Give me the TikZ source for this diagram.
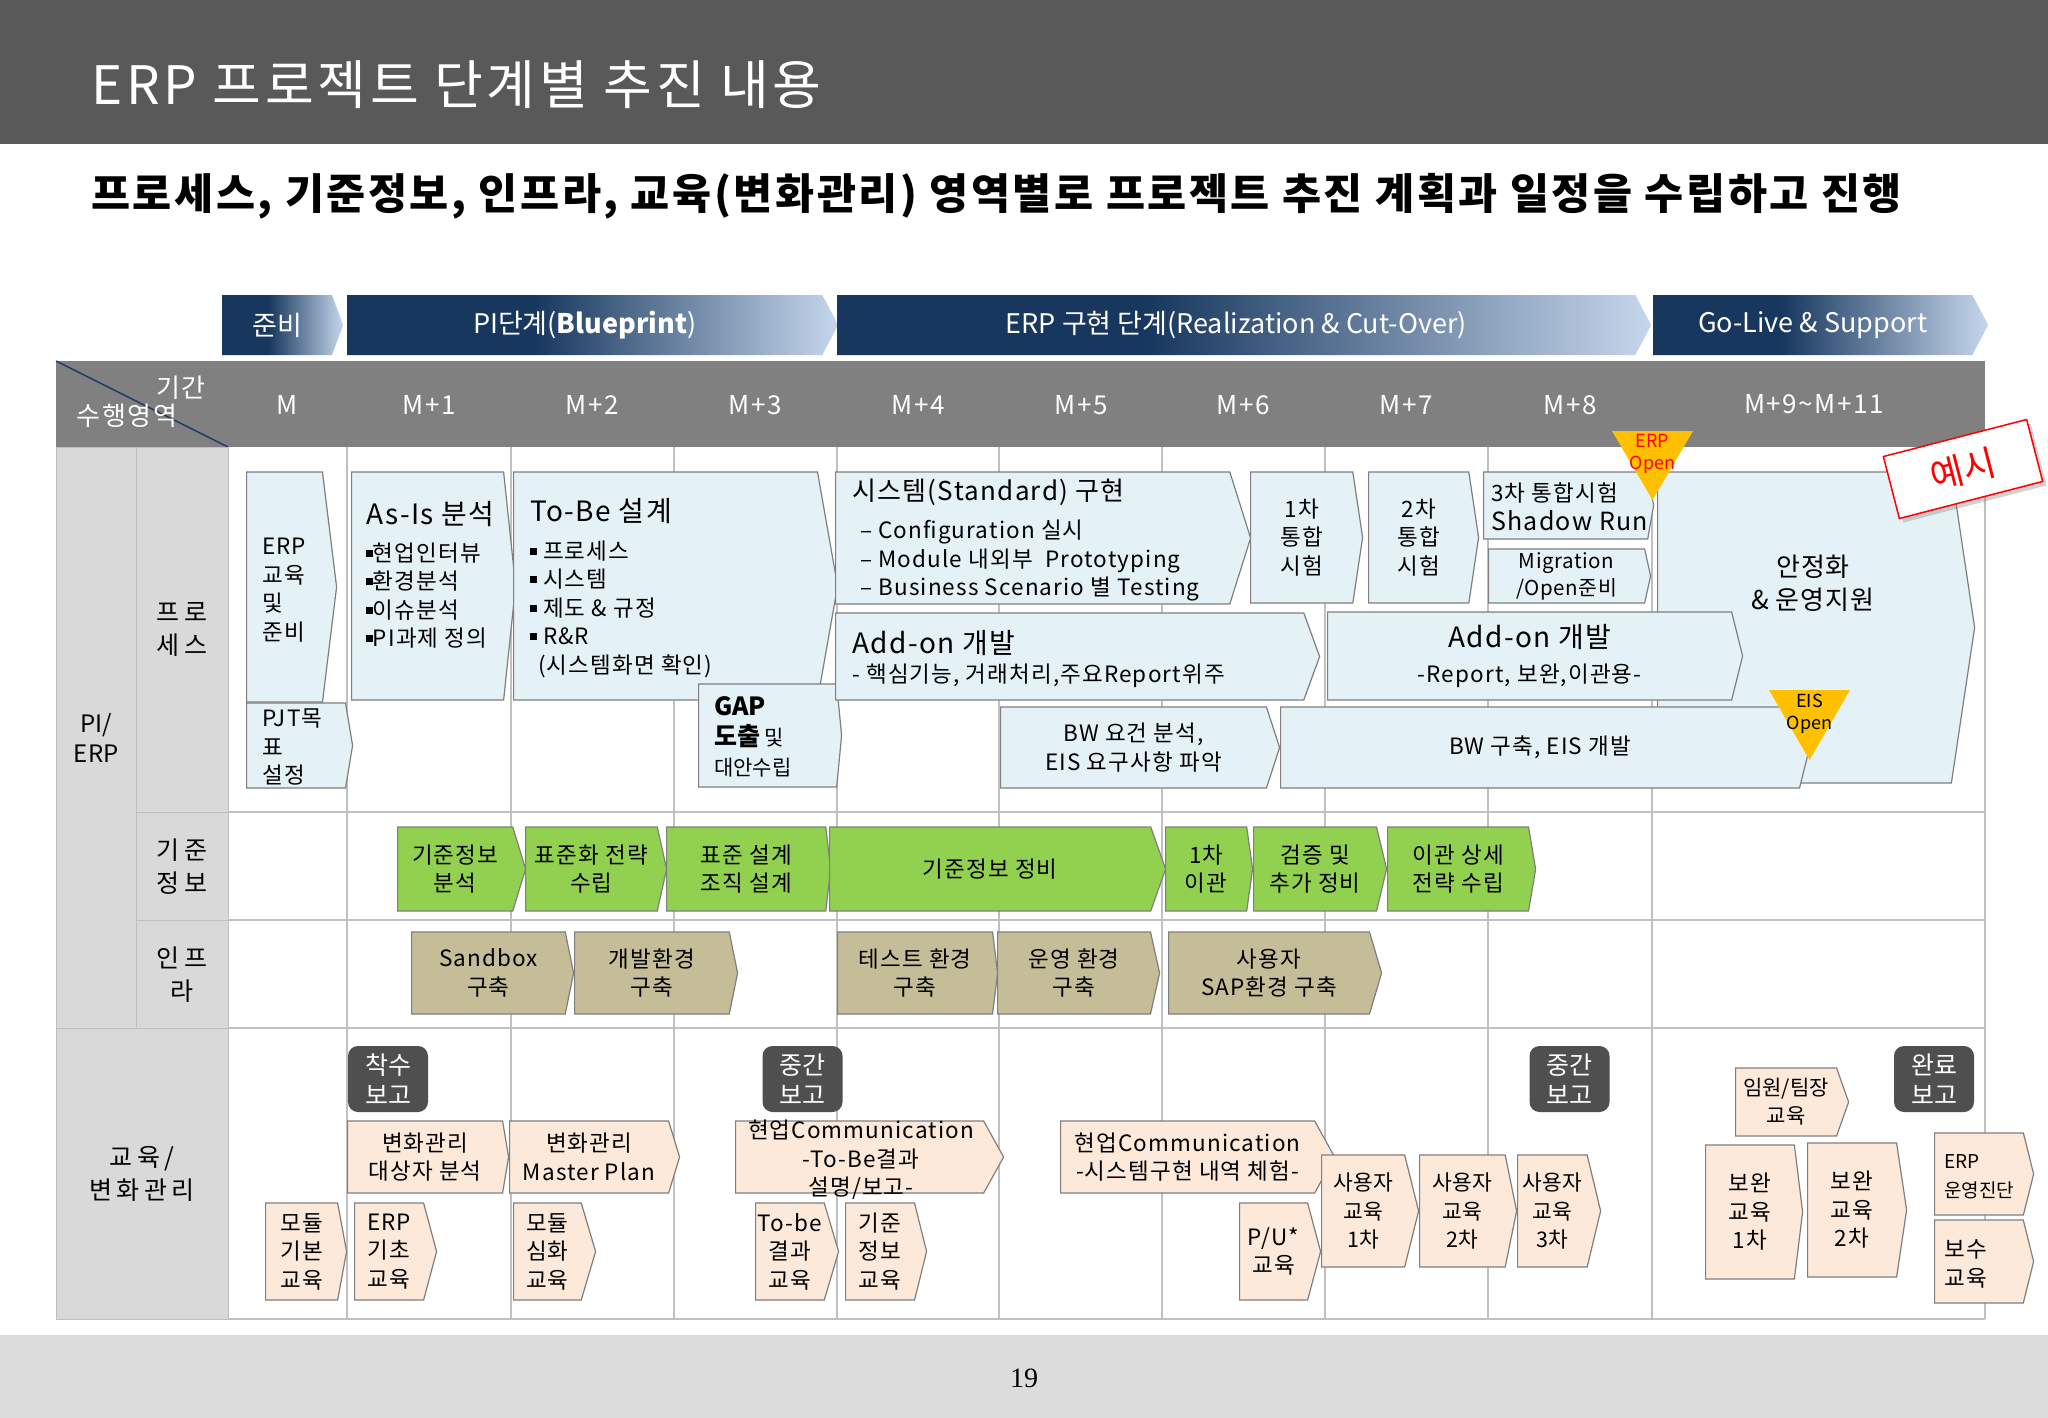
\documentclass[tikz,border=0pt]{standalone}
\usepackage{fontspec}
\setmainfont{Noto Sans CJK KR}
\newfontfamily\pagefont{Liberation Serif}
\usepackage{tikz}
\usetikzlibrary{shapes.symbols, shadows}

\definecolor{titlegray}{HTML}{595959}
\definecolor{headgray}{HTML}{808080}
\definecolor{cellgray}{HTML}{D9D9D9}
\definecolor{gridgray}{HTML}{C0C0C0}
\definecolor{edgegray}{HTML}{7F7F7F}
\definecolor{footgray}{HTML}{DCDCDC}
\definecolor{lblue}{HTML}{E4F1F7}
\definecolor{lgreen}{HTML}{92D050}
\definecolor{khaki}{HTML}{C4BD97}
\definecolor{peach}{HTML}{FDE9D9}
\definecolor{repgray}{HTML}{4F4F4F}
\definecolor{flaggold}{HTML}{FFC000}
\definecolor{navy}{HTML}{17375E}
\definecolor{paleblue}{HTML}{C6D7EC}
\definecolor{diagblue}{HTML}{1F3864}
\pgfdeclarehorizontalshading{phase}{100bp}{color(0bp)=(navy); color(25bp)=(navy); color(44bp)=(navy); color(75bp)=(paleblue); color(100bp)=(paleblue)}

\newcommand{\sqb}{\rule[0.2em]{0.3em}{0.3em}}
\newcommand{\boxfont}{\fontsize{22.5}{28.5}\selectfont\addfontfeatures{LetterSpace=5}}

\begin{document}
\begin{tikzpicture}[x=1pt, y=-1pt,
    chev/.style={signal, signal to=east, signal pointer angle=#1, anchor=west, draw=edgegray,
      line width=1.2pt, inner sep=1pt, align=center, font=\boxfont},
    chev/.default=150,
    phasebar/.style={signal, signal to=east, signal pointer angle=#1, anchor=west, shade, shading=phase,
      minimum height=60, inner sep=0pt, text=white, font=\fontsize{27}{32}\selectfont},
    phasebar/.default=124,
    hdr/.style={inner sep=0pt, text=white, font=\fontsize{26}{30}\selectfont\addfontfeatures{LetterSpace=6}},
    cell/.style={anchor=north west, draw=gridgray, fill=cellgray, inner sep=0pt, align=center,
      font=\fontsize{25}{33}\selectfont\addfontfeatures{LetterSpace=18}},
    grid/.style={gridgray, line width=1.2pt},
    lbl/.style={inner sep=0pt, anchor=west, align=left, font=\boxfont},
    rep/.style={rounded corners=10pt, fill=repgray, text=white, minimum width=80, minimum height=66,
      inner sep=1pt, align=center, font=\fontsize{25}{30}\selectfont},
    flag/.style={inner sep=0pt, align=center, font=\fontsize{18}{22}\selectfont}
  ]
  \useasboundingbox (0,0) rectangle (2048,1418);
  \fill[white] (0,0) rectangle (2048,1418);

  % title and footer
  \fill[titlegray] (0,0) rectangle (2048,144);
  \node[anchor=west, inner sep=0pt, text=white, font=\fontsize{53}{60}\selectfont\addfontfeatures{LetterSpace=7}] (title) at (91,85) {ERP 프로젝트 단계별 추진 내용};
  \node[anchor=west, inner sep=0pt, font=\bfseries\fontsize{42.5}{50}\selectfont\addfontfeatures{LetterSpace=6}] (subtitle) at (91,196) {프로세스, 기준정보, 인프라, 교육(변화관리) 영역별로 프로젝트 추진 계획과 일정을 수립하고 진행};
  \fill[footgray] (0,1335) rectangle (2048,1418);
  \node[font=\pagefont\fontsize{28}{30}\selectfont] (pageno) at (1024,1378) {19};

  % phases
  \node[phasebar=139, minimum width=121] (prep) at (222,325) {준비};
  \node[phasebar, minimum width=491] (blueprint) at (347,325) {PI단계(\textbf{Blueprint})};
  \node[phasebar, minimum width=814] (realize) at (837,325) {ERP 구현 단계(Realization \& Cut-Over)};
  \node[phasebar, minimum width=335] (golive) at (1653,325) {Go-Live \& Support};

  % header row
  \node[anchor=north west, fill=headgray, minimum width=1929, minimum height=86, inner sep=0pt] (head) at (56,361) {};
  \draw[diagblue, line width=1.5pt] (head.north west) -- (228,447);
  \node[hdr] (period) at (181,388) {기간};
  \node[hdr] (area) at (127,416) {수행영역};
  \node[hdr] (m0) at (287.5,405) {M};
  \node[hdr] (m1) at (429,405) {M+1};
  \node[hdr] (m2) at (592,405) {M+2};
  \node[hdr] (m3) at (755,405) {M+3};
  \node[hdr] (m4) at (918,405) {M+4};
  \node[hdr] (m5) at (1081,405) {M+5};
  \node[hdr] (m6) at (1243,405) {M+6};
  \node[hdr] (m7) at (1406,405) {M+7};
  \node[hdr] (m8) at (1570,405) {M+8};
  \node[hdr] (m9) at (1814,404) {M+9\textasciitilde M+11};

  % grid
  \draw[grid] (228,812) -- (1985,812) (228,920) -- (1985,920) (56,1028) -- (1985,1028) (56,1319) -- (1985,1319)
    (347,447) -- (347,1319) (511,447) -- (511,1319) (674,447) -- (674,1319) (837,447) -- (837,1319)
    (999,447) -- (999,1319) (1162,447) -- (1162,1319) (1325,447) -- (1325,1319) (1488,447) -- (1488,1319)
    (1652,447) -- (1652,1319) (1985,447) -- (1985,1319);
  \node[cell, minimum width=80, minimum height=581, font=\fontsize{24}{30}\selectfont] (pierp) at (56,447) {PI/\\ERP};
  \node[cell, minimum width=92, minimum height=365] (proc) at (136,447) {프로\\세스};
  \node[cell, minimum width=92, minimum height=108] (mdata) at (136,812) {기준\\정보};
  \node[cell, minimum width=92, minimum height=108] (infra) at (136,920) {인프\\라};
  \node[cell, minimum width=172, minimum height=291] (change) at (56,1028) {교육/\\변화관리};

  % process
  \node[chev=166, fill=lblue, minimum width=90, minimum height=230] (erpedu) at (246,587) {};
  \node[lbl] (erpedu-t) at (262,590) {ERP\\교육\\및\\준비};
  \node[chev=161, fill=lblue, minimum width=106, minimum height=85] (pjt) at (246,745.5) {};
  \node[lbl] (pjt-t) at (262,747) {PJT목\\표\\설정};
  \node[chev=168, fill=lblue, minimum width=164, minimum height=228] (asis) at (351,586) {};
  \node[lbl] (asis-t) at (366,575) {{\fontsize{28}{30}\selectfont As-Is 분석}\\[8pt]\sqb{}현업인터뷰\\\sqb{}환경분석\\\sqb{}이슈분석\\\sqb{}PI과제 정의};
  \node[chev=160, fill=lblue, minimum width=324, minimum height=228] (tobe) at (513,586) {};
  \node[lbl] (tobe-t) at (530,588) {{\fontsize{28}{30}\selectfont To-Be 설계}\\[9pt]\sqb{} 프로세스\\\sqb{} 시스템\\\sqb{} 제도 \& 규정\\\sqb{} R\&R\\\hspace*{8pt}(시스템화면 확인)};
  \node[chev=169, fill=lblue, minimum width=143, minimum height=103] (gap) at (698,735.5) {};
  \node[lbl, font=\fontsize{21}{30}\selectfont] (gap-t) at (714,737) {{\bfseries\fontsize{25}{30}\selectfont GAP}\\{\bfseries\fontsize{25}{30}\selectfont 도출} 및\\대안수립};
  \node[chev=145, fill=lblue, minimum width=415, minimum height=132] (sysimpl) at (835,538) {};
  \node[lbl] (sysimpl-t) at (852,540) {{\fontsize{26}{30}\selectfont 시스템(Standard) 구현}\\[10pt]\hspace*{8pt}– Configuration 실시\\\hspace*{8pt}– Module 내외부\ \ Prototyping\\\hspace*{8pt}– Business Scenario 별 Testing};
  \node[chev=163, fill=lblue, minimum width=112, minimum height=131] (itest1) at (1250,537.5) {1차\\통합\\시험};
  \node[chev=163, fill=lblue, minimum width=110, minimum height=131] (itest2) at (1368,537.5) {2차\\통합\\시험};
  \node[chev=163, fill=lblue, minimum width=317, minimum height=311] (stab) at (1657,627.5) {};
  \node[lbl, anchor=center, align=center, font=\fontsize{26}{33}\selectfont\addfontfeatures{LetterSpace=4}] (stab-t) at (1813,583) {안정화\\\& 운영지원};
  \node[chev=160, fill=lblue, minimum width=170, minimum height=67] (itest3) at (1483,505.5) {};
  \node[lbl] (itest3-t) at (1491,507) {3차 통합시험\\[1pt]{\fontsize{25}{30}\selectfont Shadow Run}};
  \node[chev=155, fill=lblue, minimum width=162, minimum height=54, font=\fontsize{20.5}{27}\selectfont\addfontfeatures{LetterSpace=3}] (migr) at (1488,576) {Migration\\/Open준비};
  \node[chev=140, fill=lblue, minimum width=484, minimum height=87] (addon1) at (835,656.5) {};
  \node[lbl] (addon1-t) at (852,659) {{\fontsize{28}{30}\selectfont Add-on 개발}\\[1pt]- 핵심기능, 거래처리,주요Report위주};
  \node[chev=152, fill=lblue, minimum width=415, minimum height=88] (addon2) at (1327,656) {{\fontsize{28}{30}\selectfont Add-on 개발}\\[6pt]-Report, 보완,이관용-};
  \node[chev=144, fill=lblue, minimum width=279, minimum height=81] (bwreq) at (1000,747.5) {BW 요건 분석,\\EIS 요구사항 파악};
  \node[chev=152, fill=lblue, minimum width=529, minimum height=81] (bwdev) at (1280,747.5) {BW 구축, EIS 개발};

  % master data
  \node[chev=146, fill=lgreen, minimum width=128, minimum height=84] (std1) at (397,869) {기준정보\\분석};
  \node[chev=155, fill=lgreen, minimum width=141, minimum height=84] (std2) at (525,869) {표준화 전략\\수립};
  \node[chev=167, fill=lgreen, minimum width=164, minimum height=84] (std3) at (666,869) {표준 설계\\조직 설계};
  \node[chev=141, fill=lgreen, minimum width=336, minimum height=84] (std4) at (829,869) {기준정보 정비};
  \node[chev=164, fill=lgreen, minimum width=87, minimum height=84] (std5) at (1165,869) {1차\\이관};
  \node[chev=153, fill=lgreen, minimum width=133, minimum height=84] (std6) at (1253,869) {검증 및\\추가 정비};
  \node[chev=161, fill=lgreen, minimum width=148, minimum height=84] (std7) at (1387,869) {이관 상세\\전략 수립};

  % infra
  \node[chev=157, fill=khaki, minimum width=162, minimum height=82] (inf1) at (411,973) {Sandbox\\구축};
  \node[chev=157, fill=khaki, minimum width=163, minimum height=82] (inf2) at (574,973) {개발환경\\구축};
  \node[chev=166, fill=khaki, minimum width=160, minimum height=82] (inf3) at (837,973) {테스트 환경\\구축};
  \node[chev=155, fill=khaki, minimum width=162, minimum height=82] (inf4) at (997,973) {운영 환경\\구축};
  \node[chev=147, fill=khaki, minimum width=213, minimum height=82] (inf5) at (1168,973) {사용자\\SAP환경 구축};

  % education / change management
  \node[rep] (kickoff) at (388,1079) {착수\\보고};
  \node[rep] (midrep1) at (802.5,1079) {중간\\보고};
  \node[rep] (midrep2) at (1569.5,1079) {중간\\보고};
  \node[rep] (finrep) at (1934,1079) {완료\\보고};
  \node[chev=161, fill=peach, minimum width=161, minimum height=72] (cm1) at (347,1157) {변화관리\\대상자 분석};
  \node[chev=146, fill=peach, minimum width=170, minimum height=72] (cm2) at (509,1157) {변화관리\\Master Plan};
  \node[chev=122, fill=peach, minimum width=268, minimum height=72] (comm1) at (735,1157) {};
  \node[inner sep=0pt, align=center, font=\boxfont] (comm1-t) at (861,1160) {현업Communication\\-To-Be결과\\설명/보고-};
  \node[chev=122, fill=peach, minimum width=274, minimum height=72] (comm2) at (1060,1157) {현업Communication\\-시스템구현 내역 체험-};
  \node[chev=141, fill=peach, minimum width=113, minimum height=68, font=\fontsize{21}{28}\selectfont] (exec) at (1735,1102) {임원/팀장\\교육};
  \node[chev=159, fill=peach, minimum width=81, minimum height=97] (edu1) at (265,1251.5) {모듈\\기본\\교육};
  \node[chev=150, fill=peach, minimum width=82, minimum height=97] (edu2) at (354,1251.5) {ERP\\기초\\교육};
  \node[chev=147, fill=peach, minimum width=82, minimum height=97] (edu3) at (513,1251.5) {모듈\\심화\\교육};
  \node[chev=147, fill=peach, minimum width=83, minimum height=97] (edu4) at (755,1251.5) {To-be\\결과\\교육};
  \node[chev=152, fill=peach, minimum width=81, minimum height=97] (edu5) at (845,1251.5) {기준\\정보\\교육};
  \node[chev=150, fill=peach, minimum width=81, minimum height=97] (pu) at (1239,1251.5) {P/U*\\교육};
  \node[chev=152, fill=peach, minimum width=97, minimum height=112, font=\fontsize{21.5}{28.5}\selectfont] (user1) at (1321,1211) {사용자\\교육\\1차};
  \node[chev=157, fill=peach, minimum width=97, minimum height=112, font=\fontsize{21.5}{28.5}\selectfont] (user2) at (1419,1211) {사용자\\교육\\2차};
  \node[chev=153, fill=peach, minimum width=83, minimum height=112, font=\fontsize{21.5}{28.5}\selectfont] (user3) at (1517,1211) {사용자\\교육\\3차};
  \node[chev=166, fill=peach, minimum width=97, minimum height=134] (supp1) at (1705,1212) {보완\\교육\\1차};
  \node[chev=163, fill=peach, minimum width=99, minimum height=134] (supp2) at (1807,1210) {보완\\교육\\2차};
  \node[chev=152, fill=peach, minimum width=99, minimum height=82] (diag) at (1934,1174) {};
  \node[lbl, font=\fontsize{19}{29}\selectfont] (diag-t) at (1944,1177) {ERP\\운영진단};
  \node[chev=152, fill=peach, minimum width=99, minimum height=83] (maint) at (1934,1261.5) {};
  \node[lbl] (maint-t) at (1944,1264) {보수\\교육};

  % open markers and stamp
  \fill[flaggold] (1612,431) -- (1693,431) -- (1652.5,500) -- cycle;
  \node[flag, text=red] (erpopen) at (1652.5,454) {ERP\\Open};
  \fill[flaggold] (1769,690) -- (1850,690) -- (1809.5,760) -- cycle;
  \node[flag] (eisopen) at (1809.5,714) {EIS\\Open};
  \node[draw=red, line width=1.5pt, fill=white, rotate=14.5, minimum width=148, minimum height=64, text=red,
    font=\fontsize{36}{40}\selectfont, drop shadow={shadow xshift=4pt, shadow yshift=-4pt, opacity=0.35}] (stamp) at (1963,469) {예시};
\end{tikzpicture}
\end{document}
